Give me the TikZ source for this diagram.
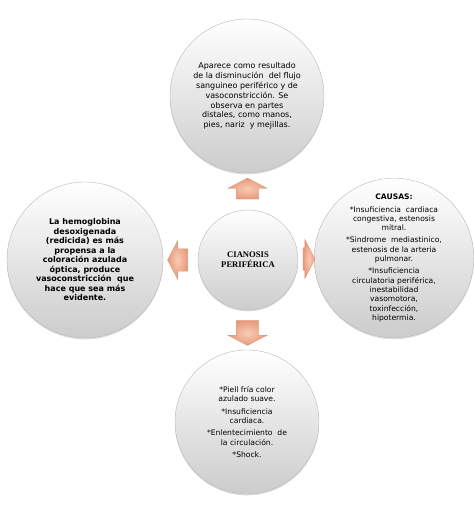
\documentclass[tikz,border=0pt]{standalone}
\usepackage{fontspec}
\setmainfont{DejaVu Sans}
\newfontfamily\titlefont{Liberation Serif}
\usetikzlibrary{shapes.arrows,shadows,calc}
\newlength{\du}
\setlength{\du}{1pt}

\begin{document}
\begin{tikzpicture}[x=\du,y=-\du]
\definecolor{bubblelow}{rgb}{0.800000, 0.800000, 0.800000}
\definecolor{bubbleedge}{rgb}{0.720000, 0.720000, 0.720000}
\definecolor{arrowlight}{rgb}{0.970000, 0.800000, 0.710000}
\definecolor{arrowdark}{rgb}{0.910000, 0.600000, 0.480000}
\definecolor{arrowedge}{rgb}{0.850000, 0.560000, 0.440000}
\tikzset{
  bubble/.style={circle, draw=bubbleedge, line width=0.4\du,
    top color=white, bottom color=bubblelow, inner sep=0pt, align=center,
    drop shadow={shadow xshift=0pt, shadow yshift=-1.5pt, opacity=0.25}},
  bubbletext/.style={font=\fontsize{7.6}{9.3}\selectfont},
  blockarrow/.style={single arrow, draw=arrowedge, line width=0.3\du,
    inner color=arrowlight, outer color=arrowdark,
    inner xsep=0pt, inner ysep=11\du, single arrow head extend=8.5\du,
    single arrow tip angle=125}
}
\useasboundingbox (0,0) rectangle (474,513);
% bubbles
\node[bubble, minimum size=100\du, font=\titlefont\bfseries\fontsize{8.6}{9.8}\selectfont] (cen) at (248,260) {CIANOSIS\\PERIFÉRICA};
\node[bubble, minimum size=154\du, font=\fontsize{8}{9.8}\selectfont] (topb) at (247,96)
  {Aparece como resultado\\de la disminución\ \ del flujo\\sanguineo periférico y de\\vasoconstricción. Se\\observa en partes\\distales, como manos,\\pies, nariz\ \ y mejillas.};
\node[bubble, minimum size=158\du, bubbletext] (rightb) at (394,258)
  {\textbf{CAUSAS:}\\[3\du]*Insuficiencia\ \ cardiaca\\congestiva, estenosis\\mitral.\\[3\du]*Sindrome\ \ mediastinico,\\estenosis de la arteria\\pulmonar.\\[3\du]*Insuficiencia\\circulatoria periférica,\\inestabilidad\\vasomotora,\\toxinfección,\\hipotermia.};
\node[bubble, minimum size=156\du, font=\bfseries\fontsize{8}{9.5}\selectfont] (leftb) at (85,260)
  {La hemoglobina\\desoxigenada\\(redicida) es más\\propensa a la\\coloración azulada\\óptica, produce\\vasoconstricción\ \ que\\hace que sea más\\evidente.};
\node[bubble, minimum size=144\du, bubbletext] (botb) at (247,422)
  {*Piell fría color\\azulado suave.\\[3\du]*Insuficiencia\\cardiaca.\\[3\du]*Enlentecimiento\ \ de\\la circulación.\\[3\du]*Shock.};
% arrows
\node[blockarrow, rotate=90, minimum height=21\du] (arrtop) at ($(cen.north)!0.5!(topb.south)$) {};
\node[blockarrow, rotate=180, minimum height=20\du] (arrleft) at ($(cen.west)!0.5!(leftb.east)$) {};
\node[blockarrow, minimum height=12\du] (arrright) at ($(cen.east)!0.5!(rightb.west)$) {};
\node[blockarrow, rotate=270, minimum height=25\du] (arrbot) at ($(cen.south)!0.5!(botb.north)$) {};
\end{tikzpicture}
\end{document}
